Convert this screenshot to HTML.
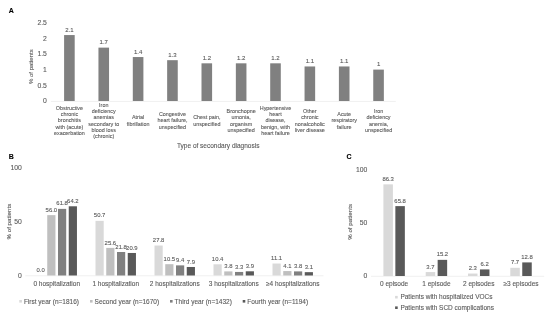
<!DOCTYPE html>
<html><head><meta charset="utf-8"><title>Figure</title>
<style>
html,body{margin:0;padding:0;background:#fff;}
body{width:550px;height:321px;overflow:hidden;}
svg{display:block;font-family:"Liberation Sans",Arial,sans-serif;}
</style></head><body>
<svg width="550" height="321" viewBox="0 0 550 321">
<rect x="0" y="0" width="550" height="321" fill="#fff"/>
<text stroke="#000" stroke-width="0.1" x="8.80" y="13.20" font-size="7.0" text-anchor="start" fill="#000" font-weight="bold">A</text>
<text stroke="#595959" stroke-width="0.1" x="46.90" y="103.45" font-size="6.8" text-anchor="end" fill="#595959">0</text>
<text stroke="#595959" stroke-width="0.1" x="46.90" y="87.75" font-size="6.8" text-anchor="end" fill="#595959">0.5</text>
<text stroke="#595959" stroke-width="0.1" x="46.90" y="72.05" font-size="6.8" text-anchor="end" fill="#595959">1</text>
<text stroke="#595959" stroke-width="0.1" x="46.90" y="56.35" font-size="6.8" text-anchor="end" fill="#595959">1.5</text>
<text stroke="#595959" stroke-width="0.1" x="46.90" y="40.65" font-size="6.8" text-anchor="end" fill="#595959">2</text>
<text stroke="#595959" stroke-width="0.1" x="46.90" y="24.95" font-size="6.8" text-anchor="end" fill="#595959">2.5</text>
<text stroke="#595959" stroke-width="0.1" x="0.00" y="0.00" font-size="6.0" text-anchor="middle" fill="#595959" transform="translate(33.4 66.7) rotate(-90)">% of patients</text>
<line x1="50.90" y1="101.40" x2="395.80" y2="101.40" stroke="#f0f0f0" stroke-width="1"/>
<rect x="64.10" y="35.06" width="10.60" height="65.94" fill="#808080"/>
<text stroke="#595959" stroke-width="0.1" x="69.40" y="31.86" font-size="6.0" text-anchor="middle" fill="#595959">2.1</text>
<text stroke="#595959" stroke-width="0.1" x="69.40" y="109.92" font-size="5.4" text-anchor="middle" fill="#595959">Obstructive</text>
<text stroke="#595959" stroke-width="0.1" x="69.40" y="116.17" font-size="5.4" text-anchor="middle" fill="#595959">chronic</text>
<text stroke="#595959" stroke-width="0.1" x="69.40" y="122.42" font-size="5.4" text-anchor="middle" fill="#595959">bronchitis</text>
<text stroke="#595959" stroke-width="0.1" x="69.40" y="128.67" font-size="5.4" text-anchor="middle" fill="#595959">with (acute)</text>
<text stroke="#595959" stroke-width="0.1" x="69.40" y="134.92" font-size="5.4" text-anchor="middle" fill="#595959">exacerbation</text>
<rect x="98.45" y="47.62" width="10.60" height="53.38" fill="#808080"/>
<text stroke="#595959" stroke-width="0.1" x="103.75" y="44.42" font-size="6.0" text-anchor="middle" fill="#595959">1.7</text>
<text stroke="#595959" stroke-width="0.1" x="103.75" y="106.80" font-size="5.4" text-anchor="middle" fill="#595959">Iron</text>
<text stroke="#595959" stroke-width="0.1" x="103.75" y="113.05" font-size="5.4" text-anchor="middle" fill="#595959">deficiency</text>
<text stroke="#595959" stroke-width="0.1" x="103.75" y="119.30" font-size="5.4" text-anchor="middle" fill="#595959">anemias</text>
<text stroke="#595959" stroke-width="0.1" x="103.75" y="125.55" font-size="5.4" text-anchor="middle" fill="#595959">secondary to</text>
<text stroke="#595959" stroke-width="0.1" x="103.75" y="131.80" font-size="5.4" text-anchor="middle" fill="#595959">blood loss</text>
<text stroke="#595959" stroke-width="0.1" x="103.75" y="138.05" font-size="5.4" text-anchor="middle" fill="#595959">(chronic)</text>
<rect x="132.80" y="57.04" width="10.60" height="43.96" fill="#808080"/>
<text stroke="#595959" stroke-width="0.1" x="138.10" y="53.84" font-size="6.0" text-anchor="middle" fill="#595959">1.4</text>
<text stroke="#595959" stroke-width="0.1" x="138.10" y="119.30" font-size="5.4" text-anchor="middle" fill="#595959">Atrial</text>
<text stroke="#595959" stroke-width="0.1" x="138.10" y="125.55" font-size="5.4" text-anchor="middle" fill="#595959">fibrillation</text>
<rect x="167.15" y="60.18" width="10.60" height="40.82" fill="#808080"/>
<text stroke="#595959" stroke-width="0.1" x="172.45" y="56.98" font-size="6.0" text-anchor="middle" fill="#595959">1.3</text>
<text stroke="#595959" stroke-width="0.1" x="172.45" y="116.17" font-size="5.4" text-anchor="middle" fill="#595959">Congestive</text>
<text stroke="#595959" stroke-width="0.1" x="172.45" y="122.42" font-size="5.4" text-anchor="middle" fill="#595959">heart failure,</text>
<text stroke="#595959" stroke-width="0.1" x="172.45" y="128.67" font-size="5.4" text-anchor="middle" fill="#595959">unspecified</text>
<rect x="201.50" y="63.32" width="10.60" height="37.68" fill="#808080"/>
<text stroke="#595959" stroke-width="0.1" x="206.80" y="60.12" font-size="6.0" text-anchor="middle" fill="#595959">1.2</text>
<text stroke="#595959" stroke-width="0.1" x="206.80" y="119.30" font-size="5.4" text-anchor="middle" fill="#595959">Chest pain,</text>
<text stroke="#595959" stroke-width="0.1" x="206.80" y="125.55" font-size="5.4" text-anchor="middle" fill="#595959">unspecified</text>
<rect x="235.85" y="63.32" width="10.60" height="37.68" fill="#808080"/>
<text stroke="#595959" stroke-width="0.1" x="241.15" y="60.12" font-size="6.0" text-anchor="middle" fill="#595959">1.2</text>
<text stroke="#595959" stroke-width="0.1" x="241.15" y="113.05" font-size="5.4" text-anchor="middle" fill="#595959">Bronchopne</text>
<text stroke="#595959" stroke-width="0.1" x="241.15" y="119.30" font-size="5.4" text-anchor="middle" fill="#595959">umonia,</text>
<text stroke="#595959" stroke-width="0.1" x="241.15" y="125.55" font-size="5.4" text-anchor="middle" fill="#595959">organism</text>
<text stroke="#595959" stroke-width="0.1" x="241.15" y="131.80" font-size="5.4" text-anchor="middle" fill="#595959">unspecified</text>
<rect x="270.20" y="63.32" width="10.60" height="37.68" fill="#808080"/>
<text stroke="#595959" stroke-width="0.1" x="275.50" y="60.12" font-size="6.0" text-anchor="middle" fill="#595959">1.2</text>
<text stroke="#595959" stroke-width="0.1" x="275.50" y="109.92" font-size="5.4" text-anchor="middle" fill="#595959">Hypertensive</text>
<text stroke="#595959" stroke-width="0.1" x="275.50" y="116.17" font-size="5.4" text-anchor="middle" fill="#595959">heart</text>
<text stroke="#595959" stroke-width="0.1" x="275.50" y="122.42" font-size="5.4" text-anchor="middle" fill="#595959">disease,</text>
<text stroke="#595959" stroke-width="0.1" x="275.50" y="128.67" font-size="5.4" text-anchor="middle" fill="#595959">benign, with</text>
<text stroke="#595959" stroke-width="0.1" x="275.50" y="134.92" font-size="5.4" text-anchor="middle" fill="#595959">heart failure</text>
<rect x="304.55" y="66.46" width="10.60" height="34.54" fill="#808080"/>
<text stroke="#595959" stroke-width="0.1" x="309.85" y="63.26" font-size="6.0" text-anchor="middle" fill="#595959">1.1</text>
<text stroke="#595959" stroke-width="0.1" x="309.85" y="113.05" font-size="5.4" text-anchor="middle" fill="#595959">Other</text>
<text stroke="#595959" stroke-width="0.1" x="309.85" y="119.30" font-size="5.4" text-anchor="middle" fill="#595959">chronic</text>
<text stroke="#595959" stroke-width="0.1" x="309.85" y="125.55" font-size="5.4" text-anchor="middle" fill="#595959">nonalcoholic</text>
<text stroke="#595959" stroke-width="0.1" x="309.85" y="131.80" font-size="5.4" text-anchor="middle" fill="#595959">liver disease</text>
<rect x="338.90" y="66.46" width="10.60" height="34.54" fill="#808080"/>
<text stroke="#595959" stroke-width="0.1" x="344.20" y="63.26" font-size="6.0" text-anchor="middle" fill="#595959">1.1</text>
<text stroke="#595959" stroke-width="0.1" x="344.20" y="116.17" font-size="5.4" text-anchor="middle" fill="#595959">Acute</text>
<text stroke="#595959" stroke-width="0.1" x="344.20" y="122.42" font-size="5.4" text-anchor="middle" fill="#595959">respiratory</text>
<text stroke="#595959" stroke-width="0.1" x="344.20" y="128.67" font-size="5.4" text-anchor="middle" fill="#595959">failure</text>
<rect x="373.25" y="69.60" width="10.60" height="31.40" fill="#808080"/>
<text stroke="#595959" stroke-width="0.1" x="378.55" y="66.40" font-size="6.0" text-anchor="middle" fill="#595959">1</text>
<text stroke="#595959" stroke-width="0.1" x="378.55" y="113.05" font-size="5.4" text-anchor="middle" fill="#595959">Iron</text>
<text stroke="#595959" stroke-width="0.1" x="378.55" y="119.30" font-size="5.4" text-anchor="middle" fill="#595959">deficiency</text>
<text stroke="#595959" stroke-width="0.1" x="378.55" y="125.55" font-size="5.4" text-anchor="middle" fill="#595959">anemia,</text>
<text stroke="#595959" stroke-width="0.1" x="378.55" y="131.80" font-size="5.4" text-anchor="middle" fill="#595959">unspecified</text>
<text stroke="#595959" stroke-width="0.1" x="218.20" y="148.20" font-size="6.5" text-anchor="middle" fill="#595959">Type of secondary diagnosis</text>
<text stroke="#000" stroke-width="0.1" x="8.80" y="159.10" font-size="7.0" text-anchor="start" fill="#000" font-weight="bold">B</text>
<text stroke="#595959" stroke-width="0.1" x="21.90" y="277.95" font-size="6.8" text-anchor="end" fill="#595959">0</text>
<text stroke="#595959" stroke-width="0.1" x="21.90" y="224.05" font-size="6.8" text-anchor="end" fill="#595959">50</text>
<text stroke="#595959" stroke-width="0.1" x="21.90" y="170.15" font-size="6.8" text-anchor="end" fill="#595959">100</text>
<text stroke="#595959" stroke-width="0.1" x="0.00" y="0.00" font-size="6.2" text-anchor="middle" fill="#595959" transform="translate(11.0 221.6) rotate(-90)">% of patients</text>
<line x1="25.30" y1="275.80" x2="323.50" y2="275.80" stroke="#f0f0f0" stroke-width="1"/>
<text stroke="#595959" stroke-width="0.1" x="40.60" y="272.10" font-size="5.9" text-anchor="middle" fill="#595959">0.0</text>
<rect x="47.25" y="215.13" width="8.20" height="60.37" fill="#bfbfbf"/>
<text stroke="#595959" stroke-width="0.1" x="51.35" y="211.73" font-size="5.9" text-anchor="middle" fill="#595959">56.0</text>
<rect x="58.00" y="208.88" width="8.20" height="66.62" fill="#808080"/>
<text stroke="#595959" stroke-width="0.1" x="62.10" y="205.48" font-size="5.9" text-anchor="middle" fill="#595959">61.8</text>
<rect x="68.75" y="206.29" width="8.20" height="69.21" fill="#595959"/>
<text stroke="#595959" stroke-width="0.1" x="72.85" y="202.89" font-size="5.9" text-anchor="middle" fill="#595959">64.2</text>
<text stroke="#595959" stroke-width="0.1" x="56.73" y="285.60" font-size="6.5" text-anchor="middle" fill="#595959">0 hospitalization</text>
<rect x="95.50" y="220.85" width="8.20" height="54.65" fill="#d9d9d9"/>
<text stroke="#595959" stroke-width="0.1" x="99.60" y="217.45" font-size="5.9" text-anchor="middle" fill="#595959">50.7</text>
<rect x="106.25" y="247.90" width="8.20" height="27.60" fill="#bfbfbf"/>
<text stroke="#595959" stroke-width="0.1" x="110.35" y="244.50" font-size="5.9" text-anchor="middle" fill="#595959">25.6</text>
<rect x="117.00" y="252.00" width="8.20" height="23.50" fill="#808080"/>
<text stroke="#595959" stroke-width="0.1" x="121.10" y="248.60" font-size="5.9" text-anchor="middle" fill="#595959">21.8</text>
<rect x="127.75" y="252.97" width="8.20" height="22.53" fill="#595959"/>
<text stroke="#595959" stroke-width="0.1" x="131.85" y="249.57" font-size="5.9" text-anchor="middle" fill="#595959">20.9</text>
<text stroke="#595959" stroke-width="0.1" x="115.72" y="285.60" font-size="6.5" text-anchor="middle" fill="#595959">1 hospitalization</text>
<rect x="154.50" y="245.53" width="8.20" height="29.97" fill="#d9d9d9"/>
<text stroke="#595959" stroke-width="0.1" x="158.60" y="242.13" font-size="5.9" text-anchor="middle" fill="#595959">27.8</text>
<rect x="165.25" y="264.18" width="8.20" height="11.32" fill="#bfbfbf"/>
<text stroke="#595959" stroke-width="0.1" x="169.35" y="260.78" font-size="5.9" text-anchor="middle" fill="#595959">10.5</text>
<rect x="176.00" y="265.37" width="8.20" height="10.13" fill="#808080"/>
<text stroke="#595959" stroke-width="0.1" x="180.10" y="261.97" font-size="5.9" text-anchor="middle" fill="#595959">9.4</text>
<rect x="186.75" y="266.98" width="8.20" height="8.52" fill="#595959"/>
<text stroke="#595959" stroke-width="0.1" x="190.85" y="263.58" font-size="5.9" text-anchor="middle" fill="#595959">7.9</text>
<text stroke="#595959" stroke-width="0.1" x="174.72" y="285.60" font-size="6.5" text-anchor="middle" fill="#595959">2 hospitalizations</text>
<rect x="213.50" y="264.29" width="8.20" height="11.21" fill="#d9d9d9"/>
<text stroke="#595959" stroke-width="0.1" x="217.60" y="260.89" font-size="5.9" text-anchor="middle" fill="#595959">10.4</text>
<rect x="224.25" y="271.40" width="8.20" height="4.10" fill="#bfbfbf"/>
<text stroke="#595959" stroke-width="0.1" x="228.35" y="268.00" font-size="5.9" text-anchor="middle" fill="#595959">3.8</text>
<rect x="235.00" y="271.94" width="8.20" height="3.56" fill="#808080"/>
<text stroke="#595959" stroke-width="0.1" x="239.10" y="268.54" font-size="5.9" text-anchor="middle" fill="#595959">3.3</text>
<rect x="245.75" y="271.30" width="8.20" height="4.20" fill="#595959"/>
<text stroke="#595959" stroke-width="0.1" x="249.85" y="267.90" font-size="5.9" text-anchor="middle" fill="#595959">3.9</text>
<text stroke="#595959" stroke-width="0.1" x="233.72" y="285.60" font-size="6.5" text-anchor="middle" fill="#595959">3 hospitalizations</text>
<rect x="272.50" y="263.53" width="8.20" height="11.97" fill="#d9d9d9"/>
<text stroke="#595959" stroke-width="0.1" x="276.60" y="260.13" font-size="5.9" text-anchor="middle" fill="#595959">11.1</text>
<rect x="283.25" y="271.08" width="8.20" height="4.42" fill="#bfbfbf"/>
<text stroke="#595959" stroke-width="0.1" x="287.35" y="267.68" font-size="5.9" text-anchor="middle" fill="#595959">4.1</text>
<rect x="294.00" y="271.40" width="8.20" height="4.10" fill="#808080"/>
<text stroke="#595959" stroke-width="0.1" x="298.10" y="268.00" font-size="5.9" text-anchor="middle" fill="#595959">3.8</text>
<rect x="304.75" y="272.16" width="8.20" height="3.34" fill="#595959"/>
<text stroke="#595959" stroke-width="0.1" x="308.85" y="268.76" font-size="5.9" text-anchor="middle" fill="#595959">3.1</text>
<text stroke="#595959" stroke-width="0.1" x="292.73" y="285.60" font-size="6.5" text-anchor="middle" fill="#595959">≥4 hospitalizations</text>
<rect x="19.30" y="300.00" width="2.60" height="2.60" fill="#d9d9d9"/>
<text stroke="#595959" stroke-width="0.1" x="23.90" y="303.60" font-size="6.5" text-anchor="start" fill="#595959">First year (n=1816)</text>
<rect x="90.00" y="300.00" width="2.60" height="2.60" fill="#bfbfbf"/>
<text stroke="#595959" stroke-width="0.1" x="94.60" y="303.60" font-size="6.5" text-anchor="start" fill="#595959">Second year (n=1670)</text>
<rect x="170.00" y="300.00" width="2.60" height="2.60" fill="#808080"/>
<text stroke="#595959" stroke-width="0.1" x="174.60" y="303.60" font-size="6.5" text-anchor="start" fill="#595959">Third year (n=1432)</text>
<rect x="242.70" y="300.00" width="2.60" height="2.60" fill="#595959"/>
<text stroke="#595959" stroke-width="0.1" x="247.30" y="303.60" font-size="6.5" text-anchor="start" fill="#595959">Fourth year (n=1194)</text>
<text stroke="#000" stroke-width="0.1" x="346.50" y="158.90" font-size="7.0" text-anchor="start" fill="#000" font-weight="bold">C</text>
<text stroke="#595959" stroke-width="0.1" x="367.40" y="278.45" font-size="6.8" text-anchor="end" fill="#595959">0</text>
<text stroke="#595959" stroke-width="0.1" x="367.40" y="225.35" font-size="6.8" text-anchor="end" fill="#595959">50</text>
<text stroke="#595959" stroke-width="0.1" x="367.40" y="172.25" font-size="6.8" text-anchor="end" fill="#595959">100</text>
<text stroke="#595959" stroke-width="0.1" x="0.00" y="0.00" font-size="6.2" text-anchor="middle" fill="#595959" transform="translate(352.2 221.9) rotate(-90)">% of patients</text>
<line x1="371.00" y1="276.30" x2="544.20" y2="276.30" stroke="#f0f0f0" stroke-width="1"/>
<rect x="383.40" y="184.35" width="9.50" height="91.65" fill="#d9d9d9"/>
<text stroke="#595959" stroke-width="0.1" x="388.15" y="180.95" font-size="5.9" text-anchor="middle" fill="#595959">86.3</text>
<rect x="395.35" y="206.12" width="9.50" height="69.88" fill="#595959"/>
<text stroke="#595959" stroke-width="0.1" x="400.10" y="202.72" font-size="5.9" text-anchor="middle" fill="#595959">65.8</text>
<text stroke="#595959" stroke-width="0.1" x="394.12" y="285.60" font-size="6.5" text-anchor="middle" fill="#595959">0 episode</text>
<rect x="425.70" y="272.07" width="9.50" height="3.93" fill="#d9d9d9"/>
<text stroke="#595959" stroke-width="0.1" x="430.45" y="268.67" font-size="5.9" text-anchor="middle" fill="#595959">3.7</text>
<rect x="437.65" y="259.86" width="9.50" height="16.14" fill="#595959"/>
<text stroke="#595959" stroke-width="0.1" x="442.40" y="256.46" font-size="5.9" text-anchor="middle" fill="#595959">15.2</text>
<text stroke="#595959" stroke-width="0.1" x="436.43" y="285.60" font-size="6.5" text-anchor="middle" fill="#595959">1 episode</text>
<rect x="468.00" y="273.56" width="9.50" height="2.44" fill="#d9d9d9"/>
<text stroke="#595959" stroke-width="0.1" x="472.75" y="270.16" font-size="5.9" text-anchor="middle" fill="#595959">2.3</text>
<rect x="479.95" y="269.42" width="9.50" height="6.58" fill="#595959"/>
<text stroke="#595959" stroke-width="0.1" x="484.70" y="266.02" font-size="5.9" text-anchor="middle" fill="#595959">6.2</text>
<text stroke="#595959" stroke-width="0.1" x="478.73" y="285.60" font-size="6.5" text-anchor="middle" fill="#595959">2 episodes</text>
<rect x="510.30" y="267.82" width="9.50" height="8.18" fill="#d9d9d9"/>
<text stroke="#595959" stroke-width="0.1" x="515.05" y="264.42" font-size="5.9" text-anchor="middle" fill="#595959">7.7</text>
<rect x="522.25" y="262.41" width="9.50" height="13.59" fill="#595959"/>
<text stroke="#595959" stroke-width="0.1" x="527.00" y="259.01" font-size="5.9" text-anchor="middle" fill="#595959">12.8</text>
<text stroke="#595959" stroke-width="0.1" x="521.02" y="285.60" font-size="6.5" text-anchor="middle" fill="#595959">≥3 episodes</text>
<rect x="395.10" y="295.90" width="2.60" height="2.60" fill="#d9d9d9"/>
<text stroke="#595959" stroke-width="0.1" x="400.40" y="299.30" font-size="6.5" text-anchor="start" fill="#595959">Patients with hospitalized VOCs</text>
<rect x="395.10" y="306.40" width="2.60" height="2.60" fill="#595959"/>
<text stroke="#595959" stroke-width="0.1" x="400.40" y="309.50" font-size="6.5" text-anchor="start" fill="#595959">Patients with SCD complications</text>
</svg>
</body></html>
